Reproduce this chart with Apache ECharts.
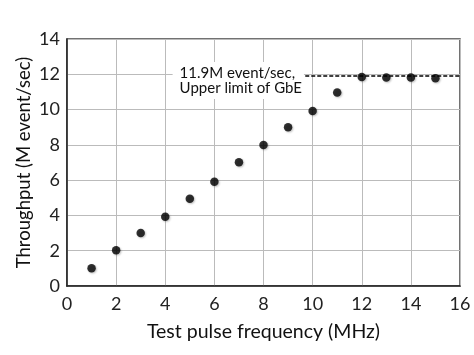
<!DOCTYPE html>
<html><head><meta charset="utf-8">
<script src="https://cdn.jsdelivr.net/npm/echarts@6/dist/echarts.min.js"></script>
<style>html,body{margin:0;padding:0;background:#fff}#c{width:474px;height:355px}</style>
</head><body><div id="c"></div>
<script>
const freq = [1,2,3,4,5,6,7,8,9,10,11,12,13,14,15];
const throughput = [1.0,2.02,3.0,3.92,4.95,5.91,7.01,7.99,9.0,9.92,10.97,11.84,11.82,11.82,11.78];
const limitValue = 11.9;
const limitStart = 9.7;
const xTicks = [0,2,4,6,8,10,12,14,16];
const yTicks = [0,2,4,6,8,10,12,14];
const annotation = ['11.9M event/sec,', 'Upper limit of GbE'];

const font = 'Lato, "Open Sans", sans-serif';
const chart = echarts.init(document.getElementById('c'), null, {renderer:'canvas'});
chart.setOption({
  animation:false,
  backgroundColor:'#fff',
  grid:{left:67,right:14,top:39,bottom:69,outerBoundsMode:'none',containLabel:false,show:true,borderColor:'#444',borderWidth:1.5,backgroundColor:'transparent'},
  xAxis:{type:'value',min:xTicks[0],max:xTicks[xTicks.length-1],interval:2,
    name:'Test pulse frequency (MHz)',nameLocation:'middle',nameGap:36,nameMoveOverlap:false,
    nameTextStyle:{fontFamily:font,fontSize:19.5,color:'#111'},
    axisLine:{show:true,lineStyle:{color:'#222',width:1.5}},
    axisTick:{show:false},
    axisLabel:{fontFamily:font,fontSize:18,color:'#222',margin:9},
    splitLine:{show:true,lineStyle:{color:'#bbb',width:1}}},
  yAxis:{type:'value',min:yTicks[0],max:yTicks[yTicks.length-1],interval:2,
    name:'Throughput (M event/sec)',nameLocation:'middle',nameGap:33,nameMoveOverlap:false,
    nameTextStyle:{fontFamily:font,fontSize:18.5,color:'#111'},
    axisLine:{show:true,lineStyle:{color:'#222',width:1.5}},
    axisTick:{show:false},
    axisLabel:{fontFamily:font,fontSize:18,color:'#222',margin:7},
    splitLine:{show:true,lineStyle:{color:'#bbb',width:1}}},
  series:[{
    type:'scatter',
    data:freq.map((f,i)=>[f,throughput[i]]),
    symbolSize:8.5,
    itemStyle:{color:'#000',shadowColor:'rgba(0,0,0,0.3)',shadowBlur:2,shadowOffsetX:1,shadowOffsetY:1},
    z:5,
    markLine:{silent:true,symbol:['none','none'],
      lineStyle:{color:'#000',type:[4,2],width:1.5},
      label:{show:false},
      data:[[{coord:[limitStart,limitValue]},{coord:[16,limitValue]}]]}
  }]
});
const p = chart.convertToPixel({gridIndex:0},[4.3,12.7]);
chart.setOption({graphic:[{type:'text',left:p[0],top:p[1],z:10,
  style:{text:annotation.join('\n'),fontFamily:font,fontSize:15,lineHeight:14.5,fill:'#111',
    backgroundColor:'#fff',padding:[4,2,4,7]}}]});
</script></body></html>
